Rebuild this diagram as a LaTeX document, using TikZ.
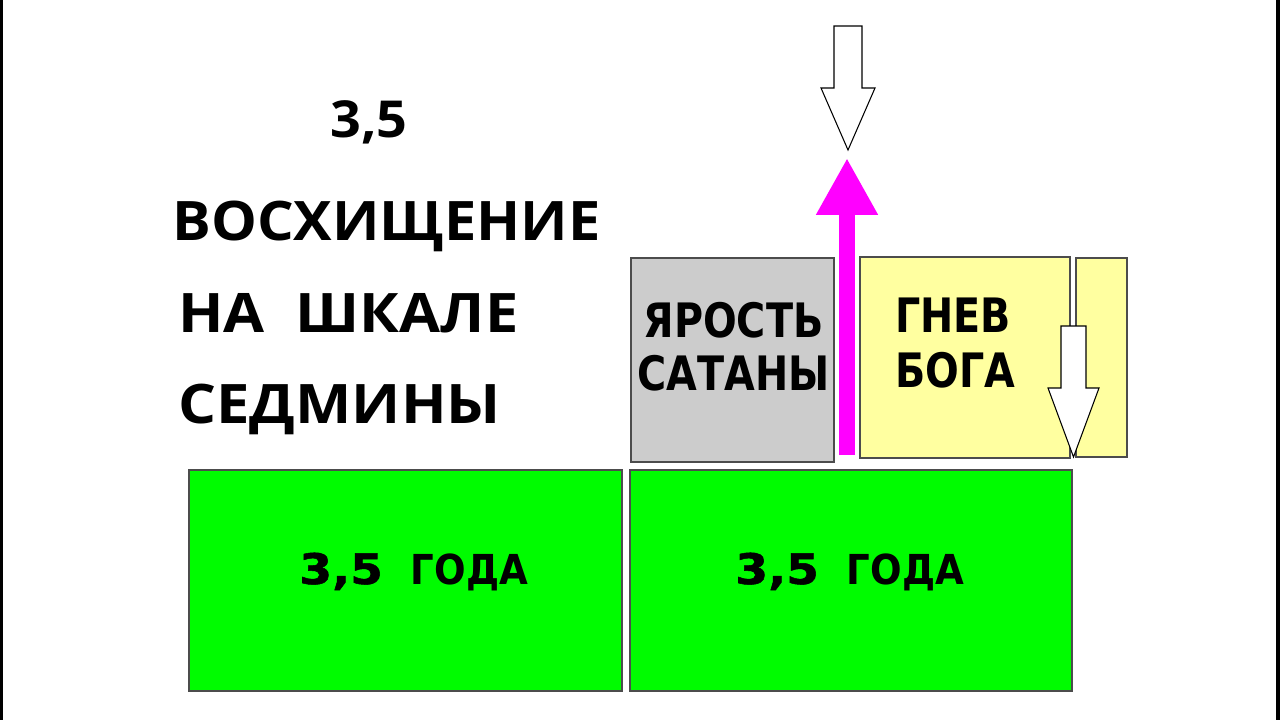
\documentclass[tikz,border=0pt]{standalone}
\usepackage{fontspec}
\setmainfont{Open Sans}[FakeStretch=1.06]
\newfontfamily\condfont{DejaVu Sans Condensed}[FakeStretch=0.93]
\newfontfamily\yearfont{DejaVu Sans Condensed}
\newfontfamily\heavyfont{DejaVu Sans}[FakeBold=1.2]
\usepackage{xcolor}
\usetikzlibrary{arrows.meta}
\definecolor{halfgreen}{RGB}{0,252,0}
\definecolor{furygrey}{RGB}{204,204,204}
\definecolor{wrathyellow}{RGB}{255,255,160}
\definecolor{raptmagenta}{RGB}{255,0,255}
\newcommand{\halfnum}{\scalebox{1.12}[1]{\heavyfont\fontsize{24}{24}\selectfont 3,5}}
\tikzset{
  block/.style={draw=black!70, line width=1pt, inner sep=0pt, outer sep=0pt},
  title/.style={font=\fontsize{31}{31}\selectfont\bfseries, anchor=base west, inner sep=0pt},
  boxtext/.style={font=\condfont\fontsize{27}{27}\selectfont\bfseries, inner sep=0pt},
  yeartext/.style={font=\yearfont\fontsize{23.5}{23.5}\selectfont\bfseries, anchor=base west, inner sep=0pt},
  hollow/.style={draw=black, line width=0.6pt, fill=white},
}

\begin{document}
\begin{tikzpicture}[x=0.02cm,y=-0.02cm]
        \useasboundingbox (0,0) rectangle (1280,720);
        \fill[white] (0,0) rectangle (1280,720);
        %RAND
        \fill[black] (0,0) rectangle (3,720);
        \fill[black] (1276,0) rectangle (1280,720);
        %JUDUL
        \node[title, anchor=base, font=\fontsize{29}{29}\selectfont\bfseries] (half) at (369,137) {3,5};
        \node[title] (rapture) at (172,240) {ВОСХИЩЕНИЕ};
        \node[title] (onscale) at (178,332) {\scalebox{1.03}[1]{НА\ \ ШКАЛЕ}};
        \node[title] (week) at (178,423) {\scalebox{1.035}[1]{СЕДМИНЫ}};
        %SEDMINA
        \node[block, fill=halfgreen, minimum width=8.66cm, minimum height=4.42cm] (first) at (405.5,580.5) {};
        \node[block, fill=halfgreen, minimum width=8.84cm, minimum height=4.42cm] (second) at (851,580.5) {};
        \node[yeartext] (firstyears) at (299,584) {\halfnum\ \hspace{0.3cm}ГОДА};
        \node[yeartext] (secondyears) at (735,584) {\halfnum\ \hspace{0.3cm}ГОДА};
        %YAROST
        \node[block, fill=furygrey, minimum width=4.06cm, minimum height=4.08cm] (fury) at (732.5,360) {};
        \node[boxtext, anchor=base] (fury1) at (733.5,337) {ЯРОСТЬ};
        \node[boxtext, anchor=base] (fury2) at (733.5,390) {САТАНЫ};
        %GNEV
        \node[block, fill=wrathyellow, minimum width=4.2cm, minimum height=4.02cm] (wrath) at (965,357.5) {};
        \node[block, fill=wrathyellow, minimum width=1.02cm, minimum height=3.98cm] (wrathend) at (1101.5,357.5) {};
        \node[boxtext, anchor=base west] (wrath1) at (895,332) {ГНЕВ};
        \node[boxtext, anchor=base west] (wrath2) at (895,387) {БОГА};
        %PANAH
        \coordinate (riseA) at (847,455);
        \coordinate (riseB) at (847,158);
        \draw[raptmagenta, line width=0.32cm, -{Triangle[length=1.14cm, width=1.16cm]}] (riseA) -- (riseB);
        \draw[hollow] (834,26) -- (862,26) -- (862,88) -- (875,88) -- (848,150) -- (821,88) -- (834,88) -- cycle;
        \draw[hollow] (1061,326) -- (1086,326) -- (1086,388) -- (1099,388) -- (1073.5,457) -- (1048,388) -- (1061,388) -- cycle;
    \end{tikzpicture}
\end{document}
